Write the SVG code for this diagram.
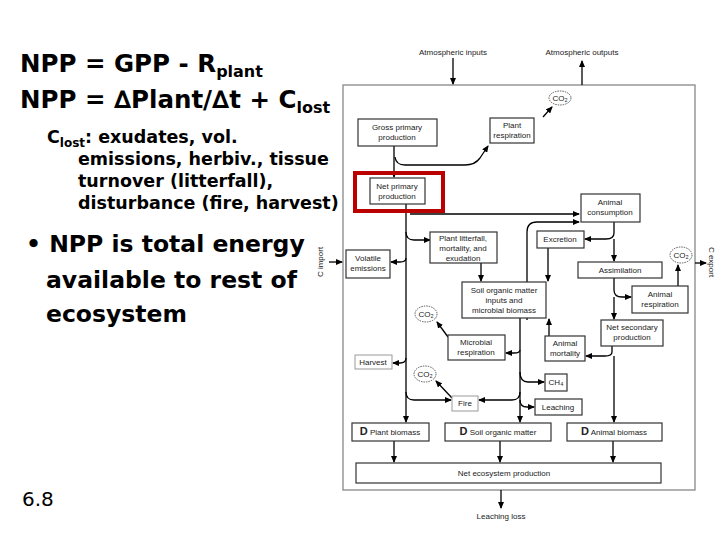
<svg xmlns="http://www.w3.org/2000/svg" width="720" height="540" viewBox="0 0 720 540">
<defs>
<marker id="ah" markerWidth="7" markerHeight="6" refX="6" refY="3" orient="auto" markerUnits="userSpaceOnUse"><path d="M0,0 L7,3 L0,6 Z" fill="#000"/></marker>
<style>
.bx{fill:#fff;stroke:#333;stroke-width:1.2}
.t{font-family:"Liberation Sans",Arial,sans-serif;font-size:8px;fill:#222;text-anchor:middle}
.c{stroke:#000;stroke-width:1.3;fill:none;marker-end:url(#ah)}
.ln{stroke:#000;stroke-width:1.3;fill:none}
.big{font-family:"DejaVu Sans",sans-serif;font-weight:bold;fill:#000}
.cl{fill:#fff;stroke:#333;stroke-width:0.8;stroke-dasharray:1.5 1}
</style>
</defs>
<rect width="720" height="540" fill="#fff"/>
<g id="left-text">
<text class="big" x="20" y="72" font-size="24.5">NPP = GPP - R<tspan font-size="16" dy="5">plant</tspan></text>
<text class="big" x="20" y="108" font-size="24.5">NPP = ∆Plant/∆t + C<tspan font-size="16" dy="5">lost</tspan></text>
<text class="big" x="47" y="143" font-size="17.5">C<tspan font-size="12" dy="4">lost</tspan><tspan dy="-4">: exudates, vol.</tspan></text>
<text class="big" x="78" y="165" font-size="17.5">emissions, herbiv., tissue</text>
<text class="big" x="78" y="187" font-size="17.5">turnover (litterfall),</text>
<text class="big" x="78" y="209" font-size="17.5">disturbance (fire, harvest)</text>
<text class="big" x="26" y="252" font-size="23.5">• NPP is total energy</text>
<text class="big" x="46" y="288" font-size="23.5">available to rest of</text>
<text class="big" x="46" y="322" font-size="23.5">ecosystem</text>
<text x="22" y="506" font-size="20" font-family="DejaVu Sans,sans-serif">6.8</text>
</g>
<g id="frame">
<rect x="343" y="85" width="352" height="405" fill="none" stroke="#888" stroke-width="1.3"/>
<text class="t" x="453" y="55">Atmospheric inputs</text>
<text class="t" x="582" y="55">Atmospheric outputs</text>
<text class="t" x="501" y="519">Leaching loss</text>
<text class="t" transform="translate(323,262) rotate(-90)">C import</text>
<text class="t" transform="translate(709,262) rotate(90)">C export</text>
</g>
<g id="clouds">
<ellipse class="cl" cx="560" cy="98" rx="11" ry="7"/><text class="t" x="560" y="101" font-size="7">CO₂</text>
<ellipse class="cl" cx="681" cy="255" rx="11" ry="8"/><text class="t" x="681" y="258" font-size="7">CO₂</text>
<ellipse class="cl" cx="426" cy="314" rx="11" ry="8"/><text class="t" x="426" y="317" font-size="7">CO₂</text>
<ellipse class="cl" cx="425" cy="374" rx="11" ry="8"/><text class="t" x="425" y="377" font-size="7">CO₂</text>
</g>
<g id="connectors">
<path class="c" d="M453,58 V84"/>
<path class="c" d="M582,85 V61"/>
<path class="c" d="M543,117 L552,107"/>
<path class="c" d="M394,146 V177"/>
<path class="c" d="M395,157 Q396,165 405,165 H465 Q475,165 480,158 L488,146"/>
<path class="c" d="M406,204 V422"/>
<path class="c" d="M410,214 H579"/>
<path class="c" d="M527,320 V232 Q527,222 537,222 H579"/>
<path class="c" d="M406,232 Q406,240 414,240 H430"/>
<path class="c" d="M406,258 Q406,262 400,262 H391"/>
<path class="c" d="M329,262 H342"/>
<path class="c" d="M695,263 H706"/>
<path class="c" d="M614,222 V233 Q614,239 606,239 H585"/>
<path class="c" d="M614,239 V261"/>
<path class="c" d="M481,263 V281"/>
<path class="c" d="M548,248 V281"/>
<path class="c" d="M614,278 V290 Q614,297 622,297 H631"/>
<path class="c" d="M614,297 V319"/>
<path class="c" d="M678,286 V265"/>
<path class="c" d="M448,337 L437,322"/>
<path class="c" d="M549,336 V319"/>
<path class="c" d="M612,346 V352 Q612,356 605,356 H586"/>
<path class="ln" d="M520,318 V350"/>
<path class="c" d="M520,350 Q520,353 514,353 H506"/>
<path class="c" d="M520,350 V422"/>
<path class="c" d="M406,358 Q406,363 400,363 H393"/>
<path class="c" d="M520,372 Q520,382 528,382 H544"/>
<path class="c" d="M452,398 L436,381"/>
<path class="c" d="M520,392 Q520,400 512,400 H479"/>
<path class="c" d="M406,392 Q406,400 414,400 H451"/>
<path class="c" d="M520,400 Q520,407 527,407 H534"/>
<path class="c" d="M614,356 V422"/>
<path class="c" d="M394,441 V462"/>
<path class="c" d="M500,441 V462"/>
<path class="c" d="M613,441 V462"/>
<path class="c" d="M501,490 V508"/>
</g>
<g id="n-gpp"><rect class="bx" x="358" y="119" width="79" height="27"/><text class="t" x="397" y="130">Gross primary</text><text class="t" x="397" y="140">production</text></g>
<g id="n-pr"><rect class="bx" x="490" y="118" width="44" height="25"/><text class="t" x="512" y="128">Plant</text><text class="t" x="512" y="138">respiration</text></g>
<g id="n-npp"><rect x="355" y="173" width="88" height="38" fill="none" stroke="#b00" stroke-width="4"/><rect class="bx" x="370" y="178" width="55" height="26"/><text class="t" x="397" y="189">Net primary</text><text class="t" x="397" y="199">production</text></g>
<g id="n-ac"><rect class="bx" x="581" y="194" width="59" height="28"/><text class="t" x="610" y="205">Animal</text><text class="t" x="610" y="215">consumption</text></g>
<g id="n-pl"><rect class="bx" x="430" y="232" width="67" height="31"/><text class="t" x="463" y="241">Plant litterfall,</text><text class="t" x="463" y="251">mortality, and</text><text class="t" x="463" y="261">exudation</text></g>
<g id="n-ve"><rect class="bx" x="346" y="250" width="44" height="28"/><text class="t" x="368" y="261">Volatile</text><text class="t" x="368" y="271">emissions</text></g>
<g id="n-ex"><rect class="bx" x="537" y="231" width="47" height="17"/><text class="t" x="560" y="242">Excretion</text></g>
<g id="n-as"><rect class="bx" x="578" y="262" width="84" height="16"/><text class="t" x="620" y="273">Assimilation</text></g>
<g id="n-som"><rect class="bx" x="462" y="282" width="84" height="36"/><text class="t" x="504" y="293">Soil organic matter</text><text class="t" x="504" y="303">inputs and</text><text class="t" x="504" y="313">microbial biomass</text></g>
<g id="n-ar"><rect class="bx" x="632" y="286" width="56" height="27"/><text class="t" x="660" y="297">Animal</text><text class="t" x="660" y="307">respiration</text></g>
<g id="n-nsp"><rect class="bx" x="601" y="320" width="62" height="26"/><text class="t" x="632" y="330">Net secondary</text><text class="t" x="632" y="340">production</text></g>
<g id="n-mr"><rect class="bx" x="448" y="335" width="57" height="25"/><text class="t" x="476" y="345">Microbial</text><text class="t" x="476" y="355">respiration</text></g>
<g id="n-am"><rect class="bx" x="545" y="336" width="40" height="25"/><text class="t" x="565" y="346">Animal</text><text class="t" x="565" y="356">mortality</text></g>
<g id="n-hv"><rect x="355" y="355" width="37" height="14" fill="#fff" stroke="#999"/><text class="t" x="373" y="365">Harvest</text></g>
<g id="n-ch4"><rect class="bx" x="545" y="374" width="22" height="17"/><text class="t" x="556" y="385">CH₄</text></g>
<g id="n-fire"><rect x="452" y="396" width="26" height="15" fill="#fff" stroke="#999"/><text class="t" x="465" y="406">Fire</text></g>
<g id="n-le"><rect class="bx" x="535" y="399" width="47" height="16"/><text class="t" x="558" y="410">Leaching</text></g>
<g id="n-dpb"><rect class="bx" x="352" y="423" width="77" height="18"/><text class="t" x="390" y="435"><tspan font-size="11" font-weight="bold">D</tspan> Plant biomass</text></g>
<g id="n-dsom"><rect class="bx" x="445" y="423" width="106" height="18"/><text class="t" x="498" y="435"><tspan font-size="11" font-weight="bold">D</tspan>   Soil organic matter</text></g>
<g id="n-dab"><rect class="bx" x="567" y="423" width="95" height="18"/><text class="t" x="614" y="435"><tspan font-size="11" font-weight="bold">D</tspan> Animal biomass</text></g>
<g id="n-nep"><rect class="bx" x="356" y="463" width="305" height="20"/><text class="t" x="504" y="476">Net ecosystem production</text></g>
</svg>
